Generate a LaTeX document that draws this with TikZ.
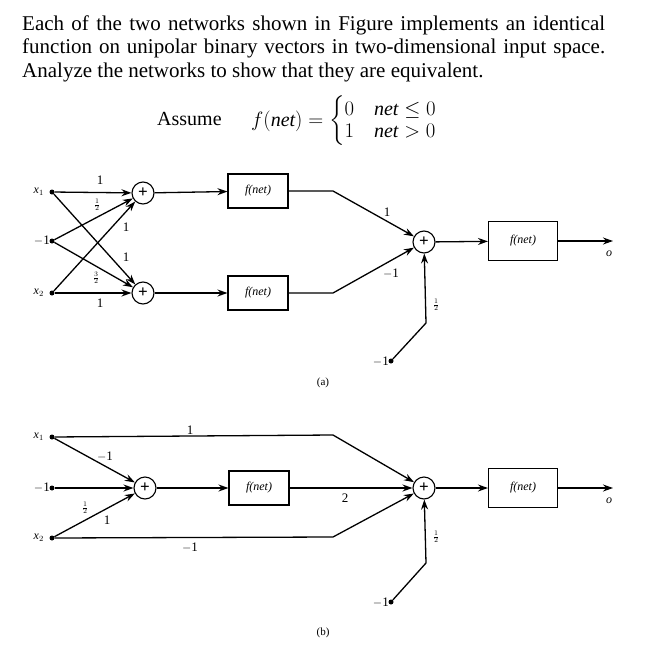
\documentclass[tikz,border=0pt]{standalone}
\usepackage{amsmath}
\usepackage{fontspec}
\setmainfont{Liberation Serif}
\usetikzlibrary{arrows.meta}
\begin{document}
\begin{tikzpicture}[x=1pt,y=-1pt,
  wire/.style={line width=1.3pt},
  arr/.style={wire,-{Stealth[length=10pt,width=7pt]}},
  dot/.style={circle,fill,inner sep=0pt,minimum size=5pt},
  sum/.style={circle,draw,line width=1.1pt,minimum size=22pt,inner sep=0pt,font=\fontsize{17}{17}\selectfont\bfseries},
  fbox/.style={draw,line width=1.1pt,minimum width=60pt,minimum height=34pt,font=\fontsize{12}{12}\selectfont\itshape},
  obox/.style={draw,line width=1.1pt,minimum width=69pt,minimum height=39pt,font=\fontsize{12}{12}\selectfont\itshape},
  lab/.style={font=\fontsize{13}{13}\selectfont,inner sep=1pt},
  fr/.style={font=\fontsize{10}{10}\selectfont,inner sep=0pt},
  big/.style={inner sep=0pt,font=\fontsize{21}{23}\selectfont},
  mid/.style={inner sep=0pt,font=\fontsize{20}{23}\selectfont}]
\useasboundingbox (0,0) rectangle (647,667);
% text
\node[big,anchor=base west] (t1) at (22,30) {\makebox[583pt][s]{Each of the two networks shown in Figure  implements an identical}};
\node[big,anchor=base west] (t2) at (22,53) {\makebox[583pt][s]{function on unipolar binary vectors in two-dimensional input space.}};
\node[big,anchor=base west] (t3) at (22,77) {Analyze the networks to show that they are equivalent.};
\node[mid,anchor=base west] (t4) at (157,125) {Assume};
\node[mid,anchor=west] (t5) at (251,121) {$f(\mathit{net}) = \begin{cases}0 & \mathit{net}\le 0\\[-6pt] 1 & \mathit{net}>0\end{cases}$};
% ---------- (a)
\node[dot] (ax1) at (52,192) {}; \node[lab,anchor=east,font=\fontsize{12}{12}\selectfont\itshape] at (45,192) {x$_1$};
\node[dot] (am1) at (52,241) {}; \node[lab,anchor=east] at (51,241) {$-$1};
\node[dot] (ax2) at (52,293) {}; \node[lab,anchor=east,font=\fontsize{12}{12}\selectfont\itshape] at (45,293) {x$_2$};
\node[sum] (as1) at (143,193) {+};
\node[sum] (as2) at (143,293) {+};
\draw[arr] (ax1) -- (as1); \draw[arr] (ax1) -- (as2);
\draw[arr] (am1) -- (as1); \draw[arr] (am1) -- (as2);
\draw[arr] (ax2) -- (as1); \draw[arr] (ax2) -- (as2);
\node[lab] at (100,180) {1};
\node[fr] at (97,205) {$\frac12$};
\node[lab] at (126,227) {1};
\node[lab] at (126,257) {1};
\node[fr] at (96,278) {$\frac32$};
\node[lab] at (100,303) {1};
\node[fbox] (af1) at (258,191) {f(net)};
\node[fbox] (af2) at (258,293) {f(net)};
\draw[arr] (as1) -- (af1); \draw[arr] (as2) -- (af2);
\node[sum] (as3) at (424,242) {+};
\coordinate (ak1) at (333,191); \coordinate (ak2) at (333,293);
\draw[arr] (af1.east) -- (ak1) -- (as3);
\draw[arr] (af2.east) -- (ak2) -- (as3);
\node[lab] at (387,212) {1};
\node[lab] at (391,274) {$-$1};
\node[dot] (ab) at (391,361) {}; \node[lab,anchor=east] at (390,362) {$-$1};
\coordinate (ak3) at (426,323);
\draw[arr] (ab) -- (ak3) -- (as3);
\node[fr] at (436,305) {$\frac12$};
\node[obox] (af3) at (523,241) {f(net)};
\draw[arr] (as3) -- (af3);
\coordinate (ao) at (613,241);
\draw[arr] (af3) -- (ao);
\node[lab,font=\fontsize{12}{12}\selectfont\itshape] at (609,254) {o};
\node[lab,font=\fontsize{11}{11}\selectfont] at (323,383) {(a)};
% ---------- (b)
\node[dot] (bx1) at (52,437) {}; \node[lab,anchor=east,font=\fontsize{12}{12}\selectfont\itshape] at (45,437) {x$_1$};
\node[dot] (bm1) at (52,488) {}; \node[lab,anchor=east] at (51,488) {$-$1};
\node[dot] (bx2) at (52,538) {}; \node[lab,anchor=east,font=\fontsize{12}{12}\selectfont\itshape] at (45,538) {x$_2$};
\node[sum] (bs1) at (145,488) {+};
\draw[arr] (bx1) -- (bs1); \draw[arr] (bm1) -- (bs1); \draw[arr] (bx2) -- (bs1);
\node[lab] at (105,457) {$-$1};
\node[fr] at (85,508) {$\frac12$};
\node[lab] at (107,520) {1};
\node[fbox] (bf1) at (259,488) {f(net)};
\draw[arr] (bs1) -- (bf1);
\node[sum] (bs2) at (424,488) {+};
\coordinate (bk1) at (333,435); \coordinate (bk2) at (333,537);
\draw[arr] (bx1) -- (bk1) -- (bs2);
\draw[arr] (bx2) -- (bk2) -- (bs2);
\draw[arr] (bf1) -- (bs2);
\node[lab] at (190,430) {1};
\node[lab] at (190,548) {$-$1};
\node[lab] at (345,498) {2};
\node[dot] (bb) at (391,602) {}; \node[lab,anchor=east] at (390,603) {$-$1};
\coordinate (bk3) at (426,563);
\draw[arr] (bb) -- (bk3) -- (bs2);
\node[fr] at (436,537) {$\frac12$};
\node[obox] (bf3) at (523,488) {f(net)};
\draw[arr] (bs2) -- (bf3);
\coordinate (bo) at (613,488);
\draw[arr] (bf3) -- (bo);
\node[lab,font=\fontsize{12}{12}\selectfont\itshape] at (609,501) {o};
\node[lab,font=\fontsize{11}{11}\selectfont] at (323,633) {(b)};
\end{tikzpicture}
\end{document}
